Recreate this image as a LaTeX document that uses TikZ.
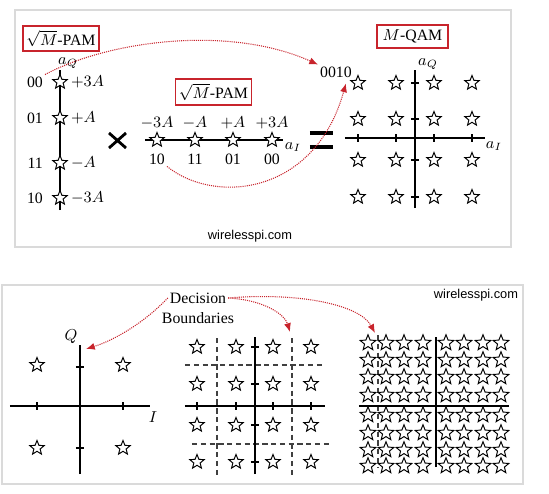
\documentclass[tikz,border=0pt]{standalone}
\usepackage{fontspec}
\setmainfont{Liberation Serif}
\setsansfont{Liberation Sans}
\usetikzlibrary{shapes.geometric,arrows.meta,positioning}
\definecolor{boxred}{RGB}{200,36,44}
\definecolor{framegray}{RGB}{218,218,218}
\begin{document}
\begin{tikzpicture}[x=0.02cm,y=-0.02cm,font=\fontsize{9}{10}\selectfont,
    pt/.style={star,star points=5,star point ratio=2.3,draw,fill=white,
        inner sep=0pt,minimum size=8.6pt,line width=0.55pt},
    bigpt/.style={pt,minimum size=9.4pt},
    axis/.style={line width=1.7pt},
    tick/.style={line width=0.9pt},
    bound/.style={dash pattern=on 3pt off 2pt,line width=0.6pt,black!75},
    redbox/.style={draw=boxred,line width=1.1pt,inner xsep=2pt,inner ysep=2.5pt,
        minimum height=14.5pt},
    lbl/.style={inner sep=1pt},
    link/.style={boxred,dash pattern=on 0.6pt off 0.6pt,line width=0.6pt,
        -{Latex[length=5pt,width=4pt]}},
    site/.style={font=\sffamily\fontsize{7.3}{8}\selectfont},
    frame/.style={draw=framegray,line width=0.8pt}]
    \useasboundingbox (0,0) rectangle (549,494);
    \draw[frame] (15,10) rectangle (511,247);
    \draw[frame] (2,285) rectangle (523,484);
    % top: PAM x PAM = QAM
    \node[redbox] (pamQ) at (61,38.5) {$\sqrt{M}$-PAM};
    \draw[axis] (60,210) -- (60,70);
    \node[lbl] (aQ) at (68,63) {$a_Q$};
    \foreach \y/\b/\v [count=\i] in {82/00/+3A,118/01/+A,163/11/-A,198/10/-3A}{
        \node[pt] (q\i) at (60,\y) {};
        \node[lbl,anchor=east] (qb\i) at (45,\y) {\b};
        \node[lbl,anchor=west] (qv\i) at (69,\y) {$\v$};
    }
    \draw[line width=1.6pt] (109,133) -- (126,148) (109,148) -- (126,133);
    \node[redbox] (pamI) at (213.5,92) {$\sqrt{M}$-PAM};
    \draw[axis] (145,140) -- (283,140);
    \node[lbl] (aI) at (293,147) {$a_I$};
    \foreach \x/\b/\v [count=\i] in {157/10/-3A,195/11/-A,233/01/+A,272/00/+3A}{
        \node[pt] (i\i) at (\x,140) {};
        \node[lbl] (iv\i) at (\x,123) {$\v$};
        \node[lbl] (ib\i) at (\x,159) {\b};
    }
    \draw[line width=1.8pt] (310,133) -- (333,133) (310,147) -- (333,147);
    \node[redbox,minimum width=40pt,minimum height=13pt] (qam) at (412.5,36.5) {$M$-QAM};
    \draw[axis] (345,138) -- (485,138);
    \draw[axis] (415,208) -- (415,70);
    \foreach \x in {358,396,434,472}
        \draw[tick] (\x,134) -- (\x,142);
    \foreach \y in {83,119,160,197}
        \draw[tick] (411,\y) -- (419,\y);
    \foreach \x [count=\i] in {358,396,434,472}
        \foreach \y [count=\j] in {83,119,160,197}
            \node[pt] (s\i\j) at (\x,\y) {};
    \node[lbl] (aQ2) at (428,64) {$a_Q$};
    \node[lbl] (aI2) at (494,146) {$a_I$};
    \node[lbl] (c0010) at (336,72) {0010};
    \draw[link] (qb1.north east) .. controls (110,40) and (230,25) .. (c0010.north west);
    \draw[link] (ib1.south east) .. controls (215,205) and (315,195)
        .. ([shift={(-8,4)}]c0010.south east);
    \node[site] (web1) at (250,236) {wirelesspi.com};
    % bottom: decision boundaries
    \node[lbl] (dec) at (198,298) {Decision};
    \node[lbl] (bnd) at (198,318) {Boundaries};
    \node[site] (web2) at (476,295) {wirelesspi.com};
    \draw[axis] (10,406) -- (150,406);
    \draw[axis] (80,474) -- (80,345);
    \foreach \x in {37,123}
        \draw[tick] (\x,402) -- (\x,410);
    \foreach \y in {367,448}
        \draw[tick] (76,\y) -- (84,\y);
    \foreach \x/\y [count=\i] in {37/365,123/365,37/448,123/448}
        \node[pt] (f\i) at (\x,\y) {};
    \node[lbl] (Q) at (71,337) {$Q$};
    \node[lbl] (I) at (153,417) {$I$};
    \coordinate (tipL) at (86,349);
    \draw[link] (dec.west) .. controls (145,322) and (115,340) .. (tipL);
    \draw[bound] (217,338) -- (217,475) (292,338) -- (292,475);
    \draw[bound] (185,365) -- (325,365) (192,444) -- (331,444);
    \draw[axis] (185,406) -- (325,406);
    \draw[axis] (255,474) -- (255,337);
    \foreach \x in {197,236,273,311}
        \draw[tick] (\x,402) -- (\x,410);
    \foreach \y in {347,384,425,462}
        \draw[tick] (251,\y) -- (259,\y);
    \foreach \x [count=\i] in {197,236,273,311}
        \foreach \y [count=\j] in {347,384,425,462}
            \node[pt] (m\i\j) at (\x,\y) {};
    \coordinate (tipM) at (290,332);
    \draw[link] (dec.east) .. controls (265,300) and (285,315) .. (tipM);
    \draw[bound] (378,335) -- (378,467);
    \draw[axis] (359,406) -- (509,406);
    \draw[axis] (436,467) -- (436,337);
    \foreach \x [count=\i] in {368,386,404,423,446,464,483,501}
        \foreach \y [count=\j] in {343,360,377,395,415,433,450,466}
            \node[bigpt] (g\i-\j) at (\x,\y) {};
    \coordinate (tipR) at (375,333);
    \draw[link] (dec.east) .. controls (300,292) and (360,305) .. (tipR);
\end{tikzpicture}
\end{document}
